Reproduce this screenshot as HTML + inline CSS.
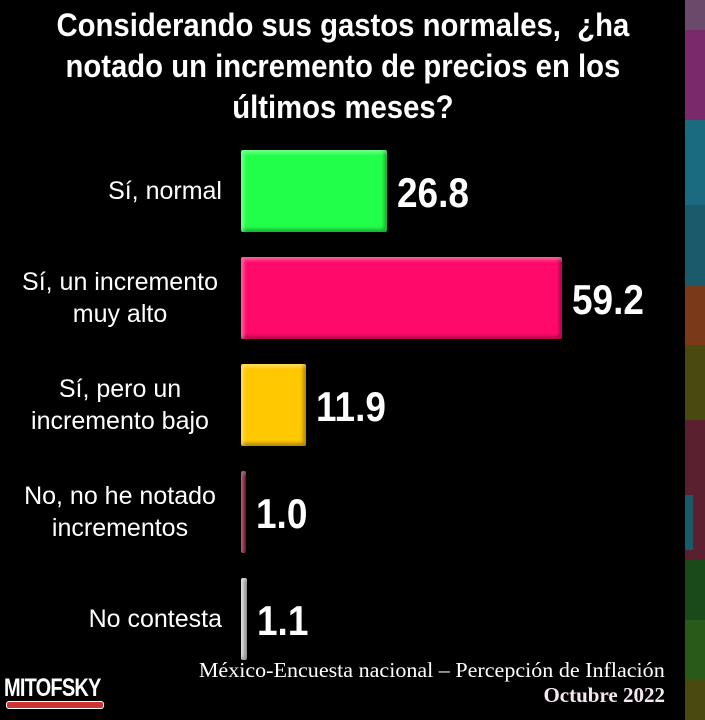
<!DOCTYPE html>
<html><head><meta charset="utf-8"><style>
body{margin:0;width:705px;height:720px;background:#000;overflow:hidden;position:relative;font-family:"Liberation Sans",sans-serif}
#strip{position:absolute;left:685px;top:0;width:20px;height:720px}
#title{position:absolute;left:0;width:685px;top:5px;text-align:center;color:#fff;font-family:"Liberation Sans Narrow","Liberation Sans",sans-serif;font-weight:bold;font-size:32px;line-height:41px;transform:scaleX(0.915);transform-origin:347px 0;white-space:nowrap}
.lbl{position:absolute;left:18px;width:204px;color:#fff;font-size:25px;line-height:32px;text-align:center;white-space:nowrap}
.val{position:absolute;color:#fff;font-weight:bold;font-size:42px;line-height:50px;transform:scaleX(0.88);transform-origin:0 0}
.bar{position:absolute;border-radius:2px}
#foot1{position:absolute;right:40px;top:658px;color:#fff;font-family:"Liberation Serif",serif;font-size:21px;transform:scaleX(1.05);transform-origin:100% 0;white-space:nowrap}
#foot2{position:absolute;right:40px;top:683px;color:#f6e6f0;font-family:"Liberation Serif",serif;font-weight:bold;font-size:21px}
#logo{position:absolute;left:4px;top:674px;color:#fff;font-weight:bold;font-size:25px;letter-spacing:-1px;transform:scaleX(0.8);transform-origin:0 0}
#tag{position:absolute;left:6px;top:701px;width:96px;height:6px;background:#c33;border-radius:3px;border:1px solid #fff}
</style></head><body>
<svg id="strip" width="20" height="720">
<rect y="0" width="20" height="30" fill="#6a4a6a"/><rect y="30" width="20" height="90" fill="#7a2a6a"/>
<rect y="120" width="20" height="85" fill="#1a6a80"/><rect y="205" width="20" height="80" fill="#1a5a6a"/>
<rect y="285" width="20" height="60" fill="#7a3a1a"/><rect y="345" width="20" height="75" fill="#4a4a10"/>
<rect y="420" width="20" height="140" fill="#5a2030"/><rect y="495" width="8" height="55" fill="#1a5a6a"/>
<rect y="560" width="20" height="60" fill="#1a4a1a"/><rect y="620" width="20" height="60" fill="#2a5a1a"/><rect y="680" width="20" height="40" fill="#4a4a10"/>
</svg>
<div id="title">Considerando sus gastos normales,&nbsp; ¿ha<br>notado un incremento de precios en los<br>últimos meses?</div>
<div id="chart"></div>
<div id="foot1">México-Encuesta nacional – Percepción de Inflación</div>
<div id="foot2">Octubre 2022</div>
<div id="logo">MITOFSKY</div>
<div id="tag"></div>
<script>
const categories=["Sí, normal","Sí, un incremento<br>muy alto","Sí, pero un<br>incremento bajo","No, no he notado<br>incrementos","No contesta"];
const values=[26.8,59.2,11.9,1.0,1.1];
const labels=["26.8","59.2","11.9","1.0","1.1"];
const colors=["#22ff4a","#ff0a6a","#ffc800","#8a0a2a","#c8c8c8"];
const x0=241,scale=5.43,top0=150,step=107,bh=82;
const xs=v=>v*scale, ys=i=>top0+i*step;
const c=document.getElementById('chart');
values.forEach((v,i)=>{
 const b=document.createElement('div');b.className='bar';
 
 
 const w=Math.max(xs(v),3);
 b.style.cssText=`left:${x0}px;top:${ys(i)}px;width:${w}px;height:${bh}px;background:${colors[i]};box-shadow:inset 3px 3px 3px rgba(255,255,255,.35),inset -3px -3px 3px rgba(0,0,0,.3)`;
 c.appendChild(b);
 const l=document.createElement('div');l.className='lbl';
 
 
 l.innerHTML=categories[i];
 const lines=categories[i].split('<br>').length;
 if(lines===1) l.style.textAlign='right';
 l.style.top=(ys(i)+bh/2-lines*16)+'px';
 c.appendChild(l);
 const t=document.createElement('div');t.className='val';
 
 
 t.textContent=labels[i];
 t.style.left=(x0+w+10)+'px';t.style.top=(ys(i)+bh/2-23)+'px';
 c.appendChild(t);
});
</script>
</body></html>
